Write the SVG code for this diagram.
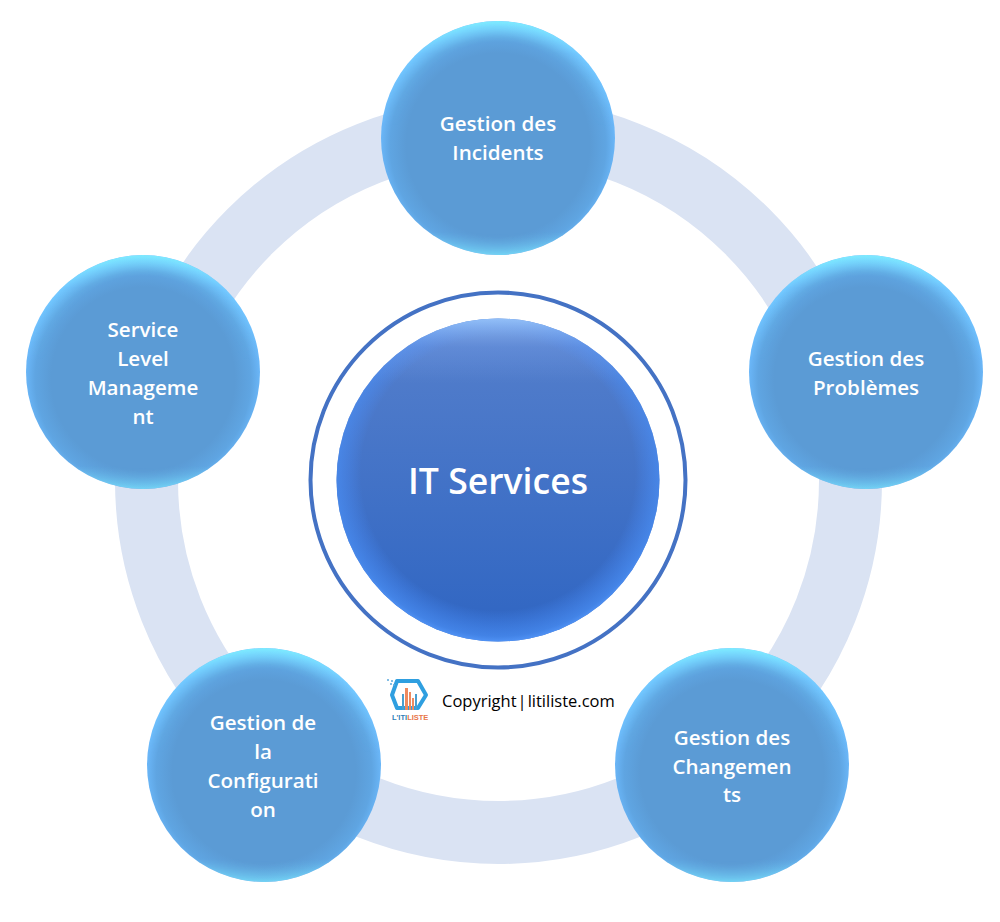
<svg xmlns="http://www.w3.org/2000/svg" width="1000" height="922" viewBox="0 0 1000 922">
<style>
.t{font-family:"Open Sans","Noto Sans","Liberation Sans",sans-serif;font-weight:600;font-size:20.600px;fill:#fff;text-anchor:middle}
.c{font-size:35.600px}
.cr{font-family:"Open Sans","Noto Sans","Liberation Sans",sans-serif;font-size:16.500px;fill:#000}
</style>
<defs>
<radialGradient id="b" cx="0.5" cy="0.53" r="0.53">
<stop offset="0" stop-color="#5b9bd5"/><stop offset="0.74" stop-color="#5b9bd5"/><stop offset="0.87" stop-color="#5fa5e2"/><stop offset="0.97" stop-color="#6ebcff"/><stop offset="1" stop-color="#74c6ff"/>
</radialGradient>
<linearGradient id="rim" x1="0" y1="0" x2="0" y2="1">
<stop offset="0" stop-color="#7ff0ff" stop-opacity=".9"/><stop offset=".14" stop-color="#7ff0ff" stop-opacity=".25"/><stop offset=".45" stop-color="#7ff0ff" stop-opacity="0"/><stop offset=".9" stop-color="#7ff0ff" stop-opacity="0"/><stop offset="1" stop-color="#7ff0ff" stop-opacity=".6"/>
</linearGradient>
<radialGradient id="rm" cx="0.5" cy="0.5" r="0.5">
<stop offset="0" stop-color="#fff" stop-opacity="0"/><stop offset="0.82" stop-color="#fff" stop-opacity="0"/><stop offset="1" stop-color="#fff" stop-opacity="1"/>
</radialGradient>
<mask id="edge" maskContentUnits="objectBoundingBox"><circle cx=".5" cy=".5" r=".5" fill="url(#rm)"/></mask>
<linearGradient id="cbase" x1="0" y1="0" x2="0" y2="1">
<stop offset="0" stop-color="#5680cc"/><stop offset="1" stop-color="#2f65c2"/>
</linearGradient>
<radialGradient id="cglow" cx="0.5" cy="0.48" r="0.53">
<stop offset="0" stop-color="#4a90ff" stop-opacity="0"/><stop offset="0.8" stop-color="#4a90ff" stop-opacity="0"/><stop offset="0.95" stop-color="#4a8ff5" stop-opacity=".7"/><stop offset="1" stop-color="#5a9dff" stop-opacity="1"/>
</radialGradient>
<linearGradient id="ctop" x1="0" y1="0" x2="0" y2="1">
<stop offset="0" stop-color="#a9d2ff" stop-opacity=".75"/><stop offset=".09" stop-color="#7fa8f0" stop-opacity=".3"/><stop offset=".2" stop-color="#7fa8f0" stop-opacity="0"/>
</linearGradient>
<g id="sphere"><circle r="117" fill="url(#b)"/><circle r="117" fill="url(#rim)" mask="url(#edge)"/></g>
</defs>
<rect width="1000" height="922" fill="#fff"/>
<g id="connectors"><circle cx="498.500" cy="480.500" r="352" fill="none" stroke="#dae3f3" stroke-width="63"/></g>
<g id="center-ring"><circle cx="498" cy="480" r="187.500" fill="none" stroke="#4472c4" stroke-width="4"/></g>
<g id="node-center"><circle cx="498" cy="480" r="161.500" fill="url(#cbase)"/><circle cx="498" cy="480" r="161.500" fill="url(#cglow)"/><circle cx="498" cy="480" r="161.500" fill="url(#ctop)"/><text class="t c" x="498" y="494">IT Services</text></g>
<g id="node-incidents"><use href="#sphere" x="498" y="138"/><text class="t" x="498" y="131">Gestion des</text><text class="t" x="498" y="160">Incidents</text></g>
<g id="node-problemes"><use href="#sphere" x="866" y="372"/><text class="t" x="866" y="366">Gestion des</text><text class="t" x="866" y="395">Problèmes</text></g>
<g id="node-changements"><use href="#sphere" x="732" y="765"/><text class="t" x="732" y="745">Gestion des</text><text class="t" x="732" y="774">Changemen</text><text class="t" x="732" y="802">ts</text></g>
<g id="node-configuration"><use href="#sphere" x="264" y="765"/><text class="t" x="263" y="730">Gestion de</text><text class="t" x="263" y="759">la</text><text class="t" x="263" y="788">Configurati</text><text class="t" x="263" y="817">on</text></g>
<g id="node-slm"><use href="#sphere" x="143" y="372"/><text class="t" x="143" y="337">Service</text><text class="t" x="143" y="366">Level</text><text class="t" x="143" y="395">Manageme</text><text class="t" x="143" y="424">nt</text></g>
<g id="logo">
<path d="M397 681H418L426 695L418 708H397L392 695Z" fill="none" stroke="#2f9fe0" stroke-width="4" stroke-linejoin="round"/>
<rect x="402" y="694" width="2" height="16" fill="#4a9fd0"/><rect x="405" y="688" width="3" height="22" fill="#ee8a5f"/><rect x="409" y="692" width="2" height="18" fill="#ee8a5f"/><rect x="412" y="698" width="2" height="12" fill="#ee8a5f"/><rect x="415" y="694" width="2" height="16" fill="#4a9fd0"/>
<g fill="#5aa9dc"><circle cx="388" cy="680" r="1"/><circle cx="392" cy="681" r="1"/><circle cx="391" cy="684" r="1"/><circle cx="394" cy="685" r="1"/></g>
<text x="392" y="720" font-family="Liberation Sans, sans-serif" font-size="7.500" font-weight="700" fill="#2f7fb8">L'ITI<tspan fill="#e8764a">LISTE</tspan></text>
</g>
<g id="copyright"><text class="cr" x="442" y="707">Copyright<tspan dx="1">|</tspan><tspan dx="1">litiliste.com</tspan></text></g>
</svg>
